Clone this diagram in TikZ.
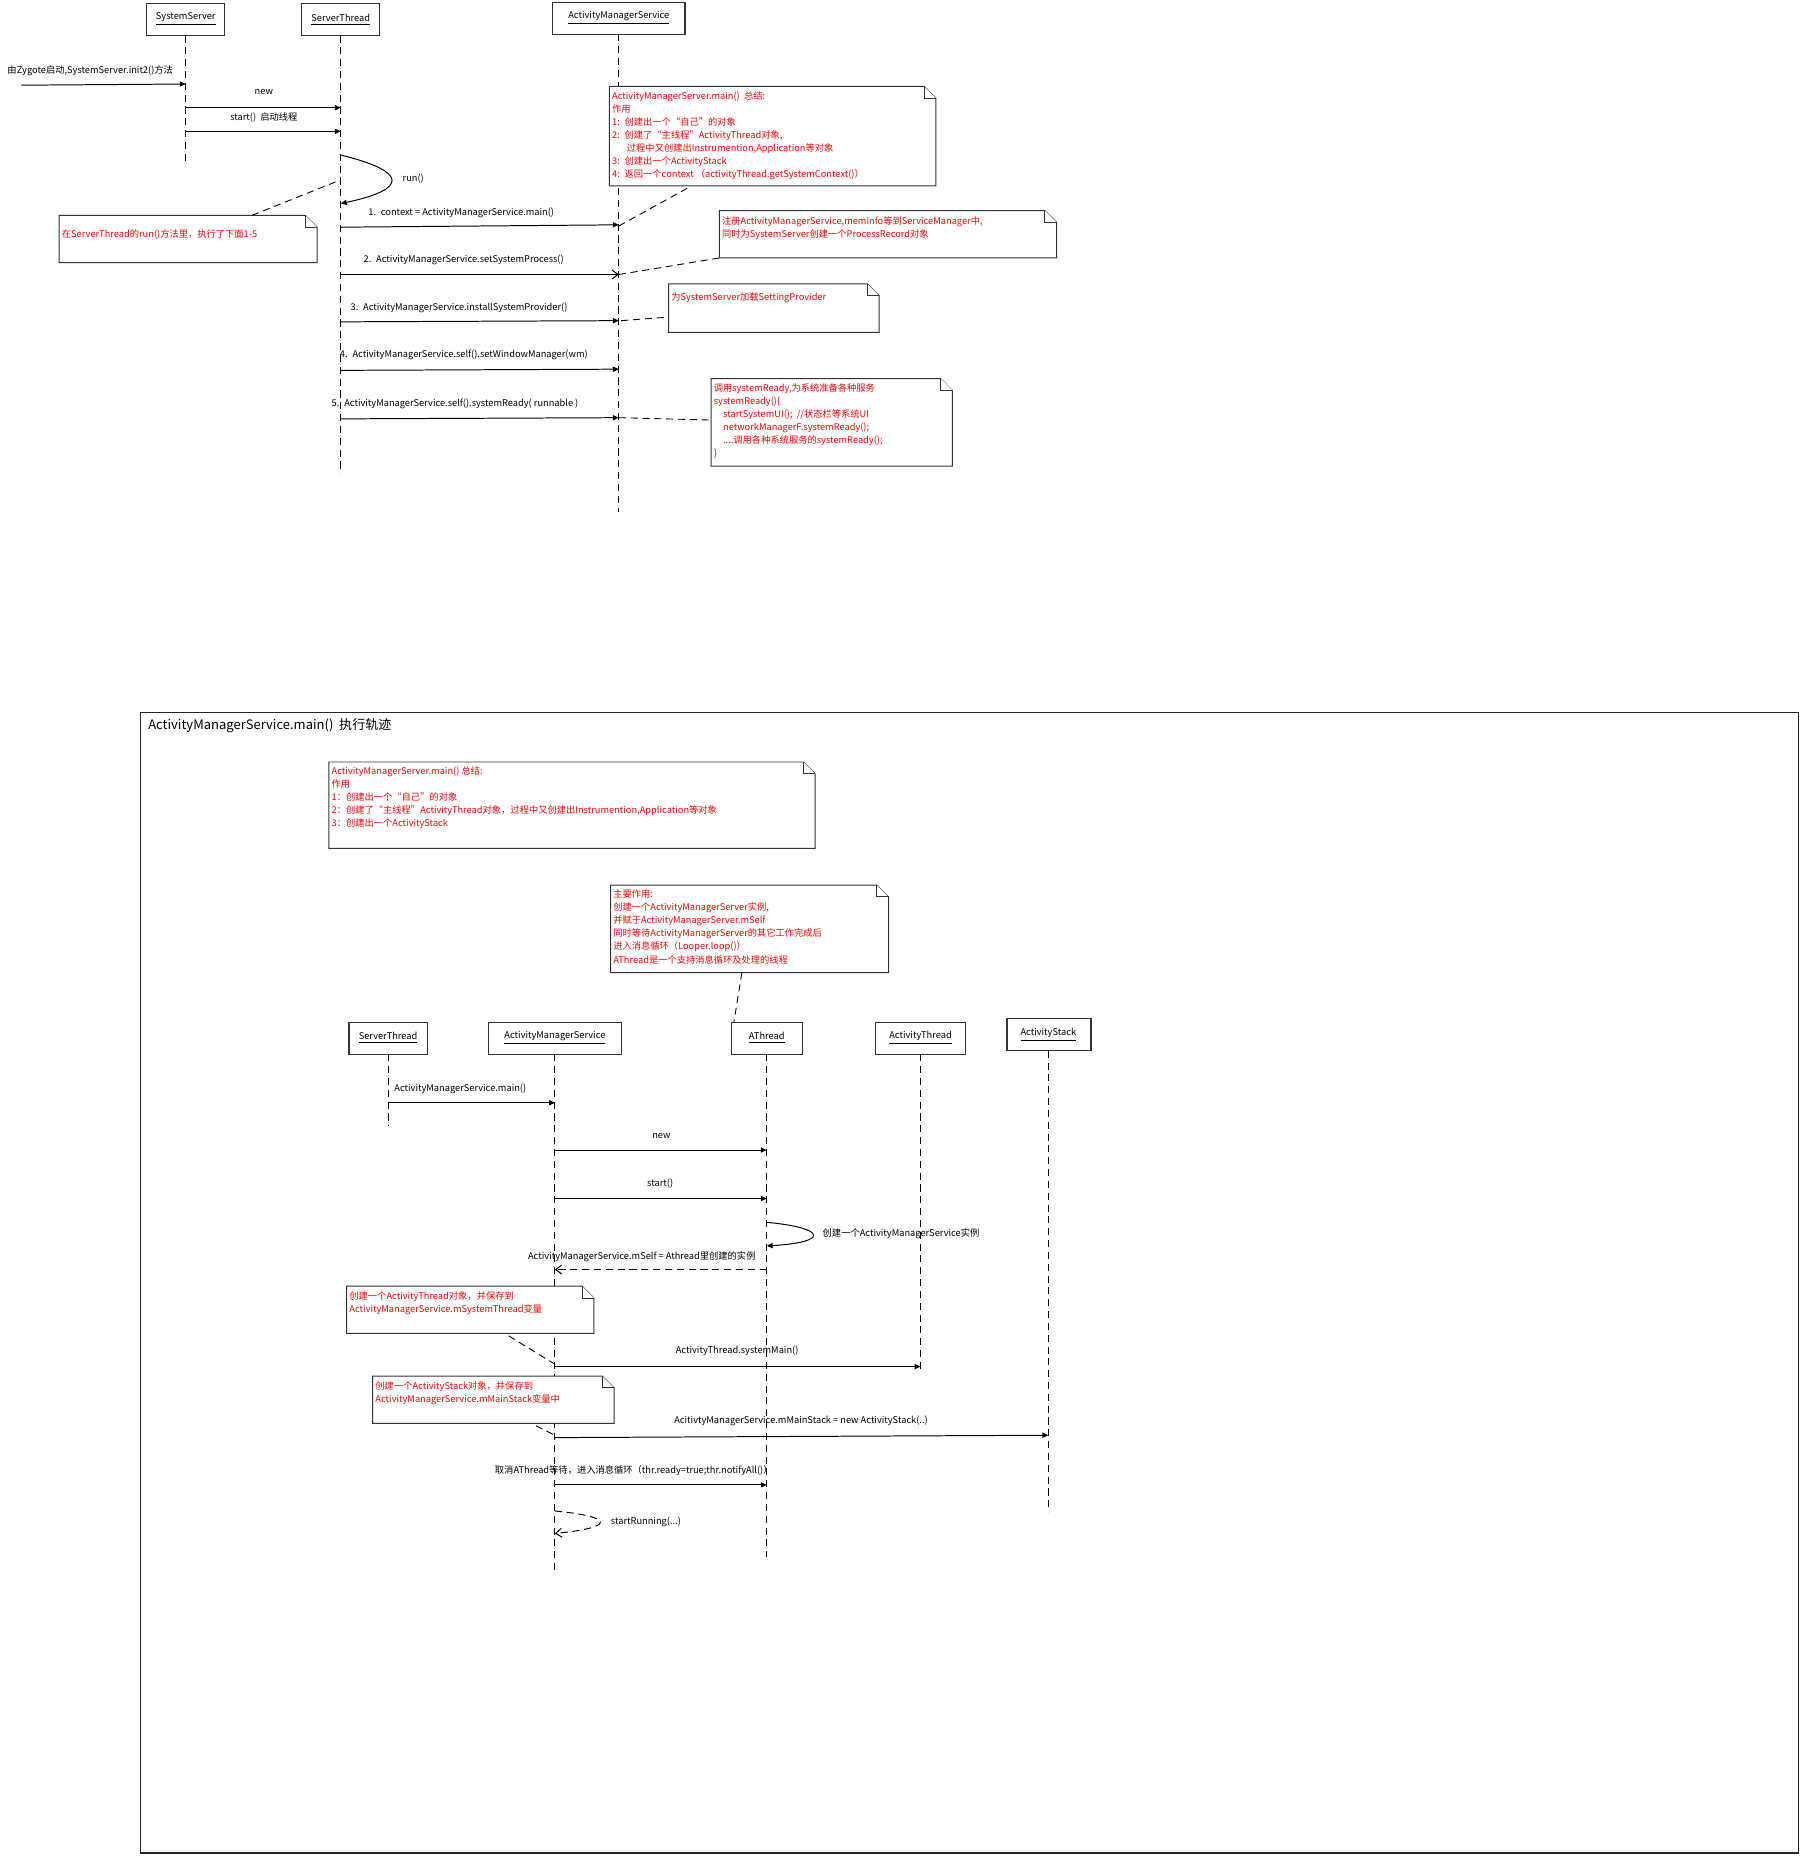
\documentclass[tikz,border=0pt]{standalone}
\usepackage{fontspec}
\setmainfont{Noto Sans CJK SC}
\usetikzlibrary{arrows.meta}
\newcommand\notebox[6]{%
 \draw[notestyle] (#2,#3) -- (#4-10,#3) -- (#4,#3+10) -- (#4,#5) -- (#2,#5) -- cycle;
 \draw[notestyle] (#4-10,#3) -- (#4-10,#3+10) -- (#4,#3+10);
 \node[notetext] (#1) at (#2+2,#3+4) {#6};
}
\tikzset{
 every node/.style={font=\fontsize{4.7pt}{6.6pt}\selectfont, inner sep=0pt},
 notestyle/.style={draw=black!80, line width=0.5pt, fill=white},
 notetext/.style={anchor=north west, align=left, text=red},
 lifebox/.style={draw=black!80, line width=0.6pt, fill=white},
 life/.style={dash pattern=on 3.6pt off 2.4pt, line width=0.45pt},
 msg/.style={line width=0.5pt, -{Triangle[length=3pt,width=2.6pt]}},
 omsg/.style={line width=0.5pt, -{Straight Barb[length=3pt,width=4.5pt]}},
 dmsg/.style={line width=0.5pt, dash pattern=on 3.6pt off 2.4pt, -{Straight Barb[length=3pt,width=4.5pt]}},
 link/.style={line width=0.45pt, dash pattern=on 3.6pt off 2.4pt},
 lbl/.style={anchor=west},
}
\begin{document}
\begin{tikzpicture}[x=0.6pt,y=-0.6pt]
\useasboundingbox[fill=white] (0,0) rectangle (1525,1572);
% ===== top diagram =====
\draw[lifebox] (124,3) rectangle (190,30); \node (ss) at (157,16.5) {\underline{SystemServer}};
\draw[lifebox] (255,3) rectangle (321,30); \node (st) at (288,16.5) {\underline{ServerThread}};
\draw[lifebox] (467,2) rectangle (579,29); \node (ams) at (523,15.5) {\underline{ActivityManagerService}};
\coordinate (ssb) at (157,30); \coordinate (sse) at (157,138);
\coordinate (stb) at (288,30); \coordinate (ste) at (288,400);
\coordinate (amsb) at (523,29); \coordinate (amse) at (523,433);
\draw[life] (ssb) -- (sse); \draw[life] (stb) -- (ste); \draw[life] (amsb) -- (amse);

\coordinate (z0) at (18,72);
\draw[msg] (z0) -- (157,71);
\node[lbl] (zl) at (6,60) {由Zygote启动,SystemServer.init2()方法};
\node (newl) at (223,78) {new};
\draw[msg] (157,91) -- (288,91);
\node (startl) at (223,99) {start() \ 启动线程};
\draw[msg] (157,111) -- (288,111);
\draw[msg] (288,131) .. controls (345,145) and (345,160) .. (288,172);
\node[lbl] (runl) at (340,151) {run()};

\notebox{n0}{50}{182}{268}{222}{\\[2pt]在ServerThread的run()方法里，执行了下面1-5}
\draw[link] (213,182) -- (288,152);

\node[lbl] (m1) at (311,180) {1. \ context = ActivityManagerService.main()};
\draw[msg] (288,192) -- (523,190);
\node[lbl] (m2) at (307,220) {2. \ ActivityManagerService.setSystemProcess()};
\draw[omsg] (288,232) -- (523,232);
\node[lbl] (m3) at (296,260) {3. \ ActivityManagerService.installSystemProvider()};
\draw[msg] (288,272) -- (523,271);
\node[lbl] (m4) at (287,300) {4. \ ActivityManagerService.self().setWindowManager(wm)};
\draw[msg] (288,313) -- (523,312);
\node[lbl] (m5) at (280,341) {5. \ ActivityManagerService.self().systemReady( runnable )};
\draw[msg] (288,354) -- (523,353);

\notebox{na}{515}{73}{791}{157}{ActivityManagerServer.main() \ 总结:\\作用\\1: \ 创建出一个“自己”的对象\\2: \ 创建了“主线程”ActivityThread对象,\\\hspace*{1.6em}过程中又创建出Instrumention,Application等对象\\3: \ 创建出一个ActivityStack\\4: \ 返回一个context （activityThread.getSystemContext()）}
\draw[link] (523,191) -- (581,159);
\notebox{nb}{608}{178}{893}{218}{\\[-2pt]注册ActivityManagerService,meminfo等到ServiceManager中,\\同时为SystemServer创建一个ProcessRecord对象}
\draw[link] (523,232) -- (608,218);
\notebox{nc}{565}{240}{743}{281}{\\[-1pt]为SystemServer加载SettingProvider}
\draw[link] (525,271) -- (565,268);
\notebox{nd}{601}{320}{805}{394}{调用systemReady,为系统准备各种服务\\systemReady()\{\\\hspace*{1em}startSystemUI(); \ //状态栏等系统UI\\\hspace*{1em}networkManagerF.systemReady();\\\hspace*{1em}....调用各种系统服务的systemReady();\\\}}
\draw[link] (523,353) -- (601,355);

% ===== bottom frame =====
\draw[line width=0.7pt, draw=black!85] (119,602) rectangle (1520,1566);
\node[lbl, font=\fontsize{6.6pt}{8pt}\selectfont] (title) at (125,613) {ActivityManagerService.main() \ 执行轨迹};

\notebox{ne}{278}{644}{689}{717}{ActivityManagerServer.main() 总结:\\作用\\1：创建出一个“自己”的对象\\2：创建了“主线程”ActivityThread对象，过程中又创建出Instrumention,Application等对象\\3：创建出一个ActivityStack}
\notebox{nf}{516}{748}{751}{822}{主要作用:\\创建一个ActivityManagerServer实例,\\并赋于ActivityManagerServer.mSelf\\同时等待ActivityManagerServer的其它工作完成后\\进入消息循环（Looper.loop()）\\AThread是一个支持消息循环及处理的线程}
\draw[link] (627,822) -- (618,878);

\draw[lifebox] (295,864) rectangle (361,891); \node (bst) at (328,877.5) {\underline{ServerThread}};
\draw[lifebox] (413,864) rectangle (525,891); \node (bams) at (469,877.5) {\underline{ActivityManagerService}};
\draw[lifebox] (618,864) rectangle (678,891); \node (bat) at (648,877.5) {\underline{AThread}};
\draw[lifebox] (740,864) rectangle (816,891); \node (bact) at (778,877.5) {\underline{ActivityThread}};
\draw[lifebox] (851,861) rectangle (922,888); \node (bas) at (886,874.5) {\underline{ActivityStack}};
\draw[life] (328,891) -- (328,952);
\draw[life] (469,891) -- (469,1328);
\draw[life] (648,891) -- (648,1316);
\draw[life] (778,891) -- (778,1160);
\draw[life] (886,888) -- (886,1278);

\node[lbl] (b1) at (333,920) {ActivityManagerService.main()};
\draw[msg] (328,932) -- (469,932);
\node (b2) at (559,960) {new};
\draw[msg] (469,972) -- (648,972);
\node (b3) at (558,1000) {start()};
\draw[msg] (469,1013) -- (648,1013);
\draw[msg] (648,1033) .. controls (700,1038) and (700,1050) .. (648,1053);
\node[lbl] (b4) at (695,1043) {创建一个ActivityManagerService实例};
\node[lbl] (b5) at (446,1062) {ActivityManagerService.mSelf = Athread里创建的实例};
\draw[dmsg] (648,1073) -- (469,1073);

\notebox{ng}{293}{1087}{502}{1127}{创建一个ActivityThread对象，并保存到\\ActivityManagerService.mSystemThread变量}
\draw[link] (430,1129) -- (469,1153);
\node (b6) at (623,1142) {ActivityThread.systemMain()};
\draw[msg] (469,1155) -- (778,1155);
\notebox{nh}{315}{1163}{519}{1203}{创建一个ActivityStack对象，并保存到\\ActivityManagerService.mMainStack变量中}
\draw[link] (453,1205) -- (469,1213);
\node (b7) at (677,1201) {AcitivtyManagerService.mMainStack = new ActivityStack(..)};
\draw[msg] (469,1215) -- (886,1213);
\node[lbl] (b8) at (418,1243) {取消AThread等待，进入消息循环（thr.ready=true;thr.notifyAll()）};
\draw[msg] (469,1255) -- (648,1255);
\draw[dmsg] (469,1277) .. controls (520,1282) and (520,1291) .. (469,1296);
\node[lbl] (b9) at (516,1286) {startRunning(...)};
\end{tikzpicture}
\end{document}
